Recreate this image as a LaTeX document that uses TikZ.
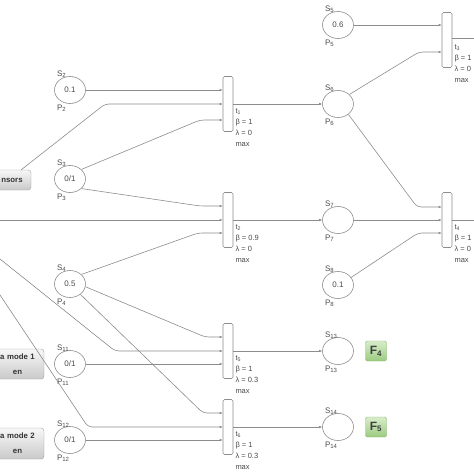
\documentclass[tikz,border=0pt]{standalone}
\usepackage{fontspec}
\setmainfont{Liberation Sans}
\usetikzlibrary{positioning,shapes.geometric,arrows.meta}
\definecolor{grigiolinea}{HTML}{8C8C8C}
\definecolor{grigiotesto}{HTML}{4A4A4A}
\definecolor{verdesu}{HTML}{D8EDCB}
\definecolor{verdegiu}{HTML}{9CCB80}
\definecolor{verdebordo}{HTML}{86B46C}

\begin{document}
\begin{tikzpicture}[x=1pt, y=-1pt, font=\fontsize{8}{10}\selectfont, text=grigiotesto,
		posto/.style={ellipse, draw=grigiolinea, line width=0.6pt, minimum width=31pt, minimum height=27pt, inner sep=0pt},
		trans/.style={draw=grigiolinea, line width=0.6pt, rounded corners=1.5pt, minimum width=10pt, minimum height=55pt, inner sep=0pt},
		sopra/.style={anchor=base west, inner sep=0pt, xshift=-2pt, yshift=4pt},
		sotto/.style={anchor=north west, inner sep=0pt, xshift=-2pt, yshift=-5pt},
		info/.style={anchor=north west, inner sep=0pt, align=left, font=\fontsize{7.5}{11}\selectfont, xshift=2pt, yshift=-4pt},
		arco/.style={draw=grigiolinea, line width=0.6pt, rounded corners=4pt, -{Latex[length=3pt,width=2.6pt]}},
		grigiobox/.style={draw=gray!75, rounded corners=3pt, top color=gray!6, bottom color=gray!42, align=center, font=\fontsize{7.8}{15}\selectfont\bfseries, text=black!80},
		verdebox/.style={draw=verdebordo, rounded corners=2pt, top color=verdesu, bottom color=verdegiu, minimum width=21pt, minimum height=20pt, inner sep=0pt, font=\fontsize{12}{14}\selectfont\bfseries, text=black!75}]
	
	\useasboundingbox (0,0) rectangle (474,474);
	\clip (0,0) rectangle (474,474);
	
	% Posti
	\foreach \n/\x/\y/\v in {2/70/90/0.1, 3/70/179/{0/1}, 4/70/284/0.5, 11/70/364/{0/1}, 12/70/440/{0/1},
		5/338/25/0.6, 6/338/104/{}, 7/338/220/{}, 8/338/285/0.1, 13/338/351/{}, 14/338/427/{}} {
		\node[posto, label={[sopra]north west:S\textsubscript{\n}}, label={[sotto]south west:P\textsubscript{\n}}] (p\n) at (\x,\y) {\v};
	}
	
	% Transizioni con parametri
	\foreach \n/\x/\y/\b/\l in {1/228/104/1/0, 2/228/220/0.9/0, 5/228/351/1/0.3, 6/228/427/1/0.3, 3/447/40/1/0, 4/447/220/1/0} {
		\node[trans] (t\n) at (\x,\y) {};
		\node[info] (info\n) at (t\n.east) {t\textsubscript{\n}\\β = \b\\λ = \l\\max};
	}
	
	% Riquadri a sinistra (tagliati dal bordo)
	\node[grigiobox, text width=30pt, inner xsep=4pt, minimum height=20pt, inner ysep=0pt] (sensori) at (12,180) {nsors};
	\node[grigiobox, text width=36pt, inner xsep=8.5pt, minimum height=30pt, inner ysep=0pt] (modo1) at (17.5,364) {a mode 1\\en};
	\node[grigiobox, text width=36pt, inner xsep=8.5pt, minimum height=31pt, inner ysep=0pt] (modo2) at (17.5,443.5) {a mode 2\\en};
	
	% Uscite F
	\node[verdebox] (f4) at (376,351) {F\textsubscript{4}};
	\node[verdebox] (f5) at (376,427) {F\textsubscript{5}};
	
	% Estremi liberi fuori dal riquadro
	\coordinate (in2) at (-5,220);
	\coordinate (in5) at (-5,255);
	\coordinate (in6) at (-4,289);
	\coordinate (out3) at (480,40);
	\coordinate (out4) at (480,220);
	
	% Archi verso t1
	\draw[arco] (p2.east) -- (p2 -| t1.west);
	\draw[arco] ([xshift=-10pt]sensori.north east) -- (105,104) -- (t1.west);
	\draw[arco] (p3.40) -- (200,120) -- ([yshift=-16pt]t1.west);
	
	% Archi verso t2
	\draw[arco] (p3.-40) -- (200,206) -- ([yshift=14pt]t2.west);
	\draw[arco] (in2) -- (t2.west);
	\draw[arco] (p4.40) -- (198,233) -- ([yshift=-13pt]t2.west);
	
	% Archi verso t5
	\draw[arco] (p4.-10) -- (205,337) -- ([yshift=14pt]t5.west);
	\draw[arco] (in5) -- (115,351) -- (t5.west);
	\draw[arco] (p11.east) -- (p11 -| t5.west);
	
	% Archi verso t6
	\draw[arco] (p4.-45) -- (203,413) -- ([yshift=14pt]t6.west);
	\draw[arco] (in6) -- (88,427) -- (t6.west);
	\draw[arco] (p12.east) -- (p12 -| t6.west);
	
	% Uscite delle transizioni
	\draw[arco] (t1.east) -- (p6.west);
	\draw[arco] (t2.east) -- (p7.west);
	\draw[arco] (t5.east) -- (p13.west);
	\draw[arco] (t6.east) -- (p14.west);
	\draw[draw=grigiolinea, line width=0.6pt] ([yshift=2pt]t3.east) -- ([yshift=2pt]out3);
	\draw[draw=grigiolinea, line width=0.6pt] (t4.east) -- (out4);
	
	% Archi verso t3 e t4
	\draw[arco] (p5.east) -- (p5 -| t3.west);
	\draw[arco] (p6.40) -- (419,52) -- ([yshift=-12pt]t3.west);
	\draw[arco] (p6.-45) -- (417,207) -- ([yshift=13pt]t4.west);
	\draw[arco] (p7.east) -- (t4.west);
	\draw[arco] (p8.30) -- (418,233) -- ([yshift=-13pt]t4.west);
	
\end{tikzpicture}
\end{document}
